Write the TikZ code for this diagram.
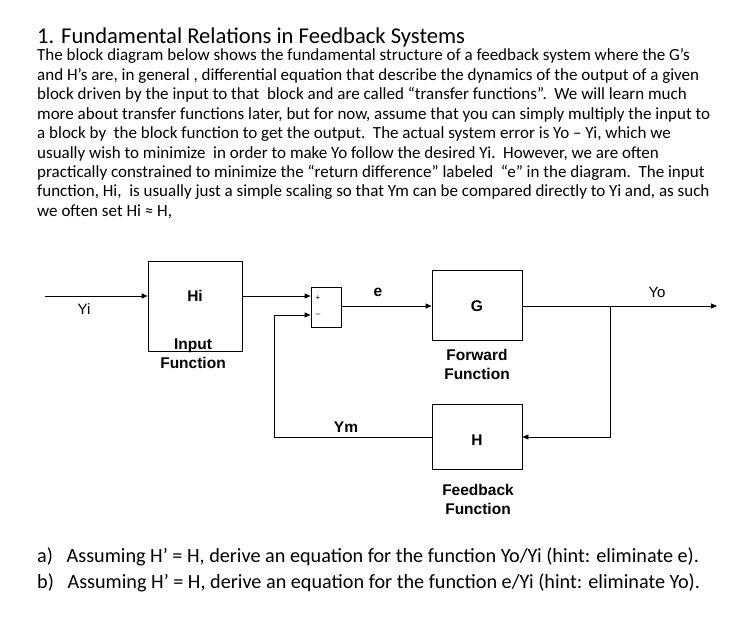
\documentclass[tikz,border=0pt]{standalone}
\usepackage{fontspec}
\setmainfont{Carlito}
\newfontfamily\arialf{Liberation Sans}
\usetikzlibrary{arrows.meta}
\begin{document}
\begin{tikzpicture}[x=1pt,y=-1pt,
  txt/.style={anchor=west,inner sep=0pt,font=\fontsize{17}{19}\selectfont},
  lab/.style={inner sep=0pt,font=\arialf\bfseries\fontsize{15.5}{19}\selectfont,align=center},
  sig/.style={-{Triangle[length=6pt,width=5pt]},line width=0.8pt},
  ln/.style={line width=0.8pt}]
\useasboundingbox (0,0) rectangle (740,631);
\node[txt,font=\fontsize{22.6}{25}\selectfont] (title) at (37,37) {1. Fundamental Relations in Feedback Systems};
\node[txt] (l1) at (37,56) {The block diagram below shows the fundamental structure of a feedback system where the G’s};
\node[txt] (l2) at (37,75.5) {and H’s are, in general , differential equation that describe the dynamics of the output of a given};
\node[txt] (l3) at (37,95) {block driven by the input to that\ \ block and are called “transfer functions”.\ \ We will learn much};
\node[txt] (l4) at (37,114.5) {more about transfer functions later, but for now, assume that you can simply multiply the input to};
\node[txt] (l5) at (37,134) {a block by\ \ the block function to get the output.\ \ The actual system error is Yo – Yi, which we};
\node[txt] (l6) at (37,153.5) {usually wish to minimize\ \ in order to make Yo follow the desired Yi.\ \ However, we are often};
\node[txt] (l7) at (37,173) {practically constrained to minimize the “return difference” labeled\ \ “e” in the diagram.\ \ The input};
\node[txt] (l8) at (37,192.5) {function, Hi,\ \ is usually just a simple scaling so that Ym can be compared directly to Yi and, as such};
\node[txt] (l9) at (37,212) {we often set Hi ≈ H,};
% diagram
\node[draw,line width=0.8pt,minimum width=94pt,minimum height=90pt] (hi) at (195,306) {};
\node[lab] at (195,296) {Hi};
\node[draw,line width=0.8pt,minimum width=30pt,minimum height=40pt] (sum) at (326,307) {};
\node[inner sep=0pt,font=\arialf\fontsize{8}{8}\selectfont] at (318,298) {+};
\node[inner sep=0pt,font=\arialf\fontsize{8}{8}\selectfont] at (318,315) {–};
\node[draw,line width=0.8pt,minimum width=90pt,minimum height=70pt] (g) at (477,305) {};
\node[lab] at (477,306) {G};
\node[draw,line width=0.8pt,minimum width=90pt,minimum height=65pt] (h) at (477,437) {};
\node[lab] at (477,440) {H};
\coordinate (in) at (45,296);
\coordinate (br) at (610,306);
\coordinate (out) at (717,306);
\coordinate (fl) at (274,437);
\draw[sig] (in) -- (hi.west|-in);
\draw[sig] (hi.east|-in) -- (sum.west|-in) ;
\draw[sig] (sum.east|-br) -- (g.west|-br);
\draw[ln] (g.east|-br) -- (br);
\draw[sig] (br) -- (out);
\draw[sig] (br) |- (h.east);
\draw[ln] (h.west) -- (fl);
\draw[sig] (fl) |- (sum.west|-0,315);
\node[lab,font=\arialf\fontsize{15}{18}\selectfont] at (84,309) {Yi};
\node[lab] at (193,354) {Input\\Function};
\node[lab] at (378,292) {e};
\node[lab,font=\arialf\fontsize{15}{18}\selectfont] at (657,292) {Yo};
\node[lab] at (477,364) {Forward\\Function};
\node[lab] at (346,427) {Ym};
\node[lab] at (478,499) {Feedback\\Function};
\node[txt,font=\fontsize{20.2}{22}\selectfont] (qa) at (37,557) {a)\ \ \ Assuming H’ = H, derive an equation for the function Yo/Yi (hint: eliminate e).};
\node[txt,font=\fontsize{20.2}{22}\selectfont] (qb) at (37,583) {b)\ \ \ Assuming H’ = H, derive an equation for the function e/Yi (hint: eliminate Yo).};
\end{tikzpicture}
\end{document}
